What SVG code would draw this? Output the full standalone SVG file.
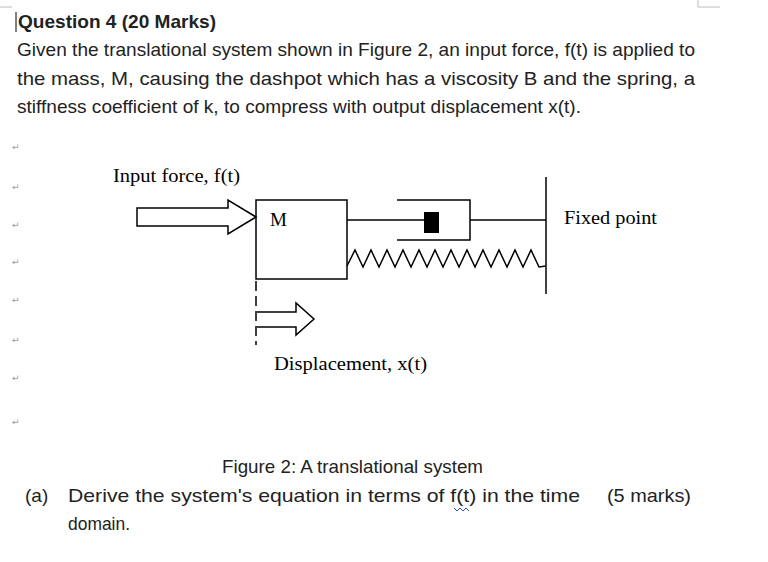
<svg xmlns="http://www.w3.org/2000/svg" width="768" height="562" viewBox="0 0 768 562">
<style>
.t{font-family:"Liberation Sans",Arial,sans-serif;font-size:19px;fill:#222}
.f{font-family:"Liberation Serif","Times New Roman",serif;font-size:19px;fill:#000}
.r{font-family:"DejaVu Sans",sans-serif;font-size:9px;fill:#999}
.l{fill:none;stroke:#000;stroke-width:1.5}
</style>
<rect width="768" height="562" fill="#fff"/>
<path d="M0 7H12M698 0V7H720" fill="none" stroke="#bbb"/>
<line x1="16" y1="12" x2="16" y2="32" stroke="#000"/>
<text class="t" x="18" y="28" font-weight="bold" textLength="198" lengthAdjust="spacingAndGlyphs">Question 4 (20 Marks)</text>
<text class="t" x="17" y="56" textLength="678" lengthAdjust="spacingAndGlyphs">Given the translational system shown in Figure 2, an input force, f(t) is applied to</text>
<text class="t" x="17" y="85" textLength="678" lengthAdjust="spacingAndGlyphs">the mass, M, causing the dashpot which has a viscosity B and the spring, a</text>
<text class="t" x="17" y="113" textLength="564" lengthAdjust="spacingAndGlyphs">stiffness coefficient of k, to compress with output displacement x(t).</text>
<g class="r">
<text x="12" y="150">↵</text><text x="12" y="190">↵</text><text x="12" y="228">↵</text><text x="12" y="265">↵</text><text x="12" y="303">↵</text><text x="12" y="343">↵</text><text x="12" y="381">↵</text><text x="12" y="425">↵</text>
</g>
<g id="input-arrow"><path class="l" d="M137 208H228V200L256 217L228 234V226H137Z"/></g>
<g id="input-label"><text class="f" x="113" y="182" textLength="127" lengthAdjust="spacingAndGlyphs">Input force, f(t)</text></g>
<g id="mass"><rect class="l" x="256" y="200" width="91" height="79"/><text class="f" x="270" y="226">M</text></g>
<g id="connectors">
<line class="l" x1="347" y1="220" x2="424" y2="220"/>
<path class="l" d="M397 200H470V240H397"/>
<rect x="424" y="212" width="15" height="21" fill="#000"/>
<line class="l" x1="470" y1="220" x2="546" y2="220"/>
<path class="l" d="M347 266L355 250L363 267L371 250L379 267L387 250L395 267L403 250L411 267L419 250L427 267L435 250L443 267L451 250L459 267L467 250L475 267L483 250L491 267L499 250L507 267L515 250L523 267L531 250L539 267L546 266"/>
</g>
<g id="fixed"><line class="l" x1="546" y1="177" x2="546" y2="294"/><text class="f" x="564" y="224" textLength="93" lengthAdjust="spacingAndGlyphs">Fixed point</text></g>
<g id="displacement">
<line x1="256" y1="281" x2="256" y2="345" stroke="#000" stroke-width="1.5" stroke-dasharray="10,5"/>
<path class="l" d="M257 312H296V303L314 319L296 335V327H257"/>
<text class="f" x="274" y="370" textLength="153" lengthAdjust="spacingAndGlyphs">Displacement, x(t)</text>
</g>
<text class="t" x="222" y="473" textLength="261" lengthAdjust="spacingAndGlyphs">Figure 2: A translational system</text>
<text class="t" x="25" y="502">(a)</text>
<text class="t" x="68" y="502" textLength="512" lengthAdjust="spacingAndGlyphs">Derive the system's equation in terms of f(t) in the time</text>
<path d="M454 508l3 3 3-3 3 3 3-3 3 3" fill="none" stroke="#2a4fbf" stroke-width="1"/>
<text class="t" x="607" y="502" textLength="84" lengthAdjust="spacingAndGlyphs">(5 marks)</text>
<text class="t" x="68" y="530" textLength="62" lengthAdjust="spacingAndGlyphs">domain.</text>
</svg>
